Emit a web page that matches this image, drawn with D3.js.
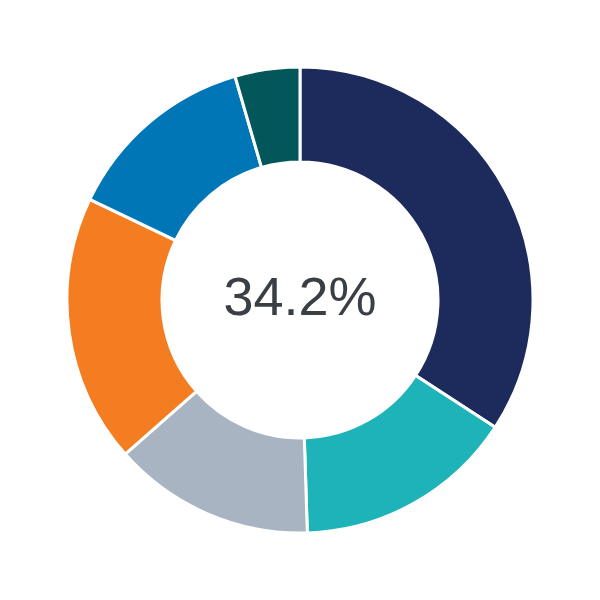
<!DOCTYPE html>
<html>
<head>
<meta charset="utf-8">
<script src="https://cdn.jsdelivr.net/npm/d3@7"></script>
<style>
body{margin:0;background:#fff;}
</style>
</head>
<body>
<svg class="graph" width="600" height="600"></svg>
<script>
// slices, clockwise from 12 o'clock
var categories = ['A','B','C','D','E','F'];
var values = [34.2, 15.3, 14.0, 18.6, 13.4, 4.5];
var colors = ['#1c2b5b','#1db3b8','#a9b4c2','#f37d20','#0076b6','#03575a'];
var centerLabel = '34.2%';

var svg = d3.select('.graph');
var g = svg.append('g').attr('transform','translate(300,300)');

var pie = d3.pie().sort(null).value(function(d){ return d.v; });
var arc = d3.arc().innerRadius(138).outerRadius(233);

var data = categories.map(function(c,i){ return {cat:c, v:values[i], col:colors[i]}; });

g.selectAll('path')
 .data(pie(data))
 .enter().append('path')
 .attr('d', arc)
 .attr('fill', function(d){ return d.data.col; })
 .attr('stroke','#fff')
 .attr('stroke-width',3);

g.append('text')
 .attr('text-anchor','middle')
 .attr('y',15)
 .style('font-family','"Liberation Sans Narrow", "Liberation Sans", sans-serif')
 .style('font-size','54px')
 .style('fill','#3a3f45')
 .text(centerLabel);
</script>
</body>
</html>
